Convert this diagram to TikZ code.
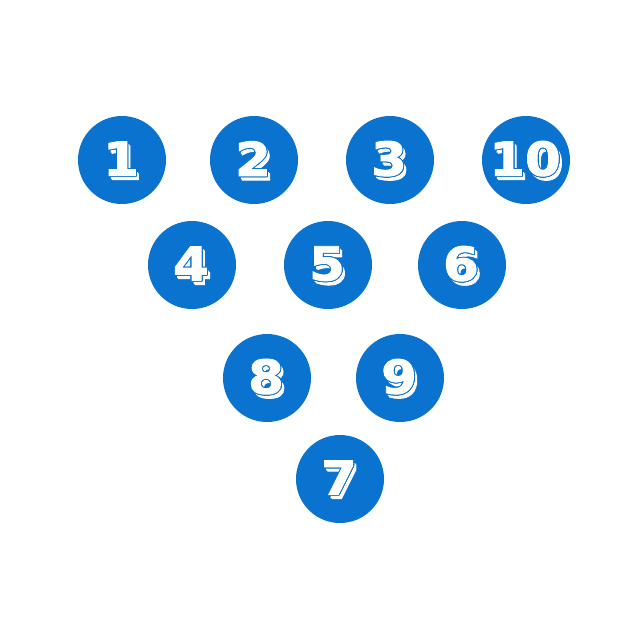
\documentclass[tikz,border=0pt]{standalone}
\usepackage{fontspec}
\setmainfont{DejaVu Sans}[BoldFeatures={FakeBold=1.8}]
\usepackage{contour}
\contournumber{24}
\definecolor{pinblue}{HTML}{0A73CF}
\tikzset{
  pin/.style={circle,fill=pinblue,minimum size=66pt,inner sep=0pt},
  dig/.style={inner sep=0pt,font=\fontsize{35}{35}\bfseries\selectfont,xscale=1.1}
}
\newcommand{\pin}[3]{%
  \node[pin] (#1) at (#2) {};
  \node[dig] at ([shift={(2.2,3.2)}]#1.center) {\contourlength{0.6pt}\contour{pinblue}{\color{white}#3}};
  \node[dig] at ([shift={(1.1,1.6)}]#1.center) {\color{white}#3};
  \node[dig] (#1t) at ([shift={(-1,-1)}]#1.center) {\contourlength{0.6pt}\contour{pinblue}{\color{white}#3}};
}
\begin{document}
\begin{tikzpicture}[x=0.75pt,y=-0.75pt]
\fill[white] (0,0) rectangle (640,640);
\pin{p1}{122,160}{1}
\pin{p2}{254,160}{2}
\pin{p3}{390,160}{3}
\pin{p10}{526,160}{10}
\pin{p4}{192,265}{4}
\pin{p5}{328,265}{5}
\pin{p6}{462,265}{6}
\pin{p8}{267,378}{8}
\pin{p9}{400,378}{9}
\pin{p7}{340,479}{7}
\end{tikzpicture}
\end{document}
